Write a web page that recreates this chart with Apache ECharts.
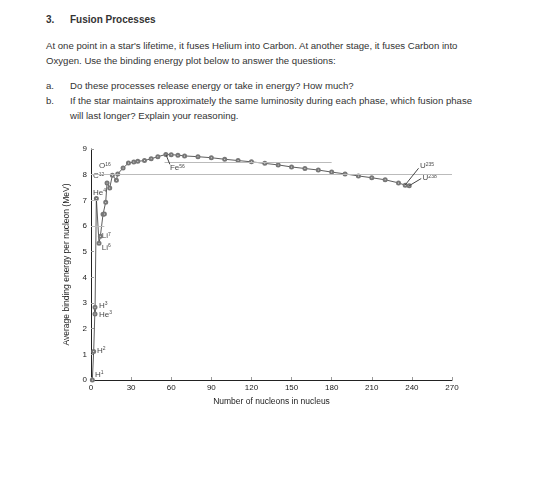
<!DOCTYPE html>
<html><head><meta charset="utf-8">
<script src="https://cdn.jsdelivr.net/npm/echarts@6/dist/echarts.min.js"></script>
<style>
body{margin:0;width:545px;height:502px;background:#fff;font-family:Arial,"Liberation Sans",sans-serif;color:#333;position:relative;overflow:hidden}
.t{position:absolute;font-size:9.6px;white-space:nowrap}
#c{position:absolute;left:0;top:0;width:545px;height:502px}
</style></head><body>
<div class="t" style="left:46px;top:14px;font-weight:bold;font-size:10px">3.</div>
<div class="t" style="left:70px;top:14px;font-weight:bold;font-size:10px">Fusion Processes</div>
<div class="t" style="left:46px;top:40px">At one point in a star's lifetime, it fuses Helium into Carbon. At another stage, it fuses Carbon into</div>
<div class="t" style="left:46px;top:55px">Oxygen. Use the binding energy plot below to answer the questions:</div>
<div class="t" style="left:46px;top:80px">a.</div>
<div class="t" style="left:70px;top:80px">Do these processes release energy or take in energy? How much?</div>
<div class="t" style="left:46px;top:95px">b.</div>
<div class="t" style="left:70px;top:95px">If the star maintains approximately the same luminosity during each phase, which fusion phase</div>
<div class="t" style="left:70px;top:110px">will last longer? Explain your reasoning.</div>
<div id="c"></div>
<script>
const nucleons=[1,2,3,3,4,6,7,9,10,11,12,14,16,19,20,24,28,32,35,40,45,50,56,60,65,70,80,90,100,110,120,130,140,150,160,170,180,190,200,210,220,230,235,238];
const energy=[0,1.11,2.83,2.57,7.07,5.33,5.6,6.46,6.47,6.93,7.68,7.48,7.98,7.78,8.03,8.26,8.45,8.49,8.52,8.55,8.62,8.7,8.79,8.78,8.76,8.73,8.7,8.66,8.6,8.55,8.5,8.44,8.38,8.3,8.24,8.18,8.1,8.03,7.95,7.88,7.8,7.68,7.59,7.57];
const labelNames=['O|16','C|12','He|4','Li|7','Li|6','H|3','He|3','H|2','H|1','Fe|56','U|235','U|238'];
const labelX=[6,1.5,1.5,8,8,6,6,4.5,3,59,246,248];
const labelY=[8.33,7.94,7.3,5.6,5.14,2.88,2.53,1.13,0.2,8.25,8.33,7.86];
const xTicks=[0,30,60,90,120,150,180,210,240,270];
const yTicks=[0,1,2,3,4,5,6,7,8,9];
const chart=echarts.init(document.getElementById('c'));
const labData=labelNames.map((n,i)=>({value:[labelX[i],labelY[i]],name:n}));
chart.setOption({
 animation:false,
 grid:{left:91,top:149,width:361,height:231},
 xAxis:{type:'value',min:0,max:270,interval:30,name:'Number of nucleons in nucleus',nameLocation:'middle',nameGap:17,
  nameTextStyle:{fontSize:8.5,color:'#222'},axisLine:{lineStyle:{color:'#222'}},axisTick:{inside:true,length:3,lineStyle:{color:'#999'}},
  axisLabel:{fontSize:8,color:'#222',margin:4},splitLine:{show:false}},
 yAxis:{type:'value',min:0,max:9,interval:1,name:'Average binding energy per nucleon (MeV)',nameLocation:'middle',nameGap:20,
  nameTextStyle:{fontSize:8.5,color:'#222'},axisLine:{lineStyle:{color:'#222'}},axisTick:{inside:true,length:3,lineStyle:{color:'#999'}},
  axisLabel:{fontSize:8,color:'#222',margin:4},splitLine:{show:false}},
 series:[
  {type:'line',data:nucleons.map((x,i)=>[x,energy[i]]),symbol:'emptyCircle',symbolSize:3,
   lineStyle:{color:'#333',width:0.8},itemStyle:{color:'#777',borderWidth:0.6},
   markLine:{silent:true,symbol:'none',label:{show:false},lineStyle:{color:'#bbb',type:'solid',width:1},
    data:[[{coord:[0,8]},{coord:[270,8]}],[{coord:[55,8.5]},{coord:[180,8.5]}],[{coord:[0,7]},{coord:[5,7]}],[{coord:[0,6]},{coord:[10,6]}],
     [{coord:[56,8.79],lineStyle:{color:'#444'}},{coord:[59,8.4],lineStyle:{color:'#444'}}],
     [{coord:[235,7.6],lineStyle:{color:'#444'}},{coord:[245,8.25],lineStyle:{color:'#444'}}],
     [{coord:[238,7.57],lineStyle:{color:'#444'}},{coord:[247,7.85],lineStyle:{color:'#444'}}]]}},
  {type:'scatter',data:labData,symbol:'circle',symbolSize:0.01,silent:true,itemStyle:{color:'transparent'},
   label:{show:true,position:'right',distance:0,color:'#111',
    formatter:p=>{const s=p.name.split('|');return '{b|'+s[0]+'}{s|'+s[1]+'}';},
    rich:{b:{fontSize:8,color:'#111'},s:{fontSize:5,color:'#111',verticalAlign:'top',padding:[0,0,4,0]}}}}
 ]
});
</script></body></html>
